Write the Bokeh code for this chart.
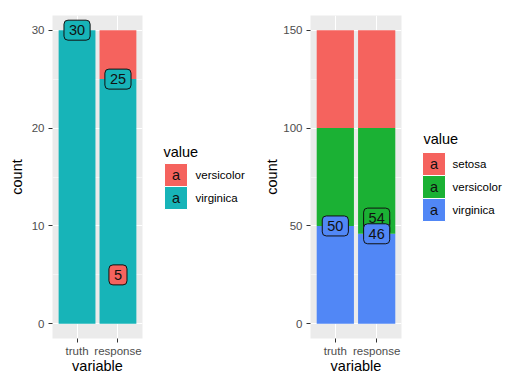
from bokeh.plotting import figure
from bokeh.layouts import row
from bokeh.models import ColumnDataSource, FactorRange, Range1d, FixedTicker
from bokeh.embed import file_html
from bokeh.resources import INLINE
from bokeh.core.properties import value

FONT = "Liberation Sans"

# ---------------- data ----------------
variables = ["truth", "response"]

# left panel
left_levels = ["versicolor", "virginica"]          # legend order (top of stack first)
left_colors = ["#F5635E", "#17B4B8"]
left_versicolor = [0, 5]
left_virginica = [30, 25]
left_ticks = [0, 10, 20, 30]
left_minor = [5, 15, 25]
left_lab_x = ["truth", "response", "response"]
left_lab_y = [30, 25, 5]
left_lab_level = ["virginica", "virginica", "versicolor"]

# right panel
right_levels = ["setosa", "versicolor", "virginica"]
right_colors = ["#F5635E", "#1BB134", "#5187F6"]
right_setosa = [50, 50]
right_versicolor = [50, 54]
right_virginica = [50, 46]
right_ticks = [0, 50, 100, 150]
right_minor = [25, 75, 125]
right_lab_x = ["truth", "response", "response", "response"]
right_lab_y = [50, 50, 54, 46]
right_lab_level = ["virginica", "setosa", "versicolor", "virginica"]

H = 380
LEG_SHIFT = 16


def panel(stack_names, stack_vals, levels, colors, ticks, minor, lab_x, lab_y, lab_level,
          border_left, border_right, frame_w, ylab_standoff):
    top = max(sum(v) for v in zip(*stack_vals))
    pad = top * 0.05
    p = figure(x_range=FactorRange(*variables, range_padding=0.1, range_padding_units="percent"),
               y_range=Range1d(-pad, top + pad),
               frame_width=frame_w, frame_height=323,
               min_border_left=border_left, min_border_right=border_right,
               min_border_top=15, min_border_bottom=42, align="start",
               output_backend="svg", toolbar_location=None,
               background_fill_color="#EBEBEB", border_fill_color="white")
    p.outline_line_color = None
    cmap = dict(zip(levels, colors))
    data = {"variable": variables}
    for n, v in zip(stack_names, stack_vals):
        data[n] = v
    src = ColumnDataSource(data)
    p.vbar_stack(stack_names, x="variable", width=0.9, source=src,
                 color=[cmap[n] for n in stack_names], line_color=None)
    lsrc = ColumnDataSource(dict(x=lab_x, y=lab_y, t=[str(v) for v in lab_y],
                                 c=[cmap[l] for l in lab_level]))
    p.text(x="x", y="y", text="t", source=lsrc, text_align="center", text_baseline="middle",
           text_font=value(FONT), text_font_size="14.5px", text_color="#111111",
           background_fill_color="c", border_line_color="#111111", border_line_width=1,
           border_radius=4, padding=5)
    p.yaxis.ticker = FixedTicker(ticks=ticks, minor_ticks=minor)
    for ax in (p.xaxis, p.yaxis):
        ax.axis_line_color = None
        ax.major_tick_line_color = "#333333"
        ax.major_tick_in = 0
        ax.major_tick_out = 4
        ax.minor_tick_line_color = None
        ax.major_label_text_font = FONT
        ax.major_label_text_font_size = "11.5px"
        ax.major_label_text_color = "#4D4D4D"
        ax.axis_label_text_font = FONT
        ax.axis_label_text_font_size = "14.5px"
        ax.axis_label_text_font_style = "normal"
        ax.axis_label_text_color = "black"
    p.xaxis.axis_label = "variable"
    p.yaxis.axis_label = "count"
    p.xaxis.major_label_standoff = 2
    p.yaxis.major_label_standoff = 4
    p.xaxis.axis_label_standoff = -2
    p.yaxis.axis_label_standoff = ylab_standoff
    p.xgrid.grid_line_color = "white"
    p.xgrid.grid_line_width = 1.1
    p.ygrid.grid_line_color = "white"
    p.ygrid.grid_line_width = 1.1
    p.ygrid.minor_grid_line_color = "white"
    p.ygrid.minor_grid_line_width = 0.5
    return p


def legend_fig(w, levels, colors, title_x, title_y, key_x, key_top, key_size, label_x):
    p = figure(x_range=Range1d(0, w), y_range=Range1d(H + LEG_SHIFT, LEG_SHIFT),
               frame_width=w, frame_height=H,
               min_border=0, output_backend="svg", toolbar_location=None, title=None,
               x_axis_location=None, y_axis_location=None,
               align="start", background_fill_color="white", border_fill_color="white")
    p.grid.visible = False
    p.outline_line_color = None
    p.text(x=[title_x], y=[title_y], text=["value"], text_baseline="middle",
           text_font=value(FONT), text_font_size="14.5px", text_color="black")
    n = len(levels)
    tops = [key_top + i * key_size for i in range(n)]
    bots = [t + key_size for t in tops]
    mids = [t + key_size / 2 for t in tops]
    p.quad(left=[key_x] * n, right=[key_x + key_size] * n, top=tops, bottom=bots,
           fill_color=colors, line_color="white", line_width=1)
    p.text(x=[key_x + key_size / 2] * n, y=mids, text=["a"] * n, text_align="center",
           text_baseline="middle", text_font=value(FONT), text_font_size="14.5px",
           text_color="#111111")
    p.text(x=[label_x] * n, y=mids, text=levels, text_baseline="middle",
           text_font=value(FONT), text_font_size="11.5px", text_color="black")
    return p


left = panel(["virginica", "versicolor"], [left_virginica, left_versicolor],
             left_levels, left_colors, left_ticks, left_minor,
             left_lab_x, left_lab_y, left_lab_level, 52, 11, 90, 4)
left_leg = legend_fig(97, left_levels, left_colors, 10, 152, 11, 164, 23, 42)
right = panel(["virginica", "versicolor", "setosa"], [right_virginica, right_versicolor, right_setosa],
              right_levels, right_colors, right_ticks, right_minor,
              right_lab_x, right_lab_y, right_lab_level, 60, 10, 91, 0)
right_leg = legend_fig(106, right_levels, right_colors, 12, 139, 11, 153, 23, 41)

layout = row(left, left_leg, right, right_leg, spacing=0, align="start")
open("out.html", "w").write(file_html(layout, INLINE))
